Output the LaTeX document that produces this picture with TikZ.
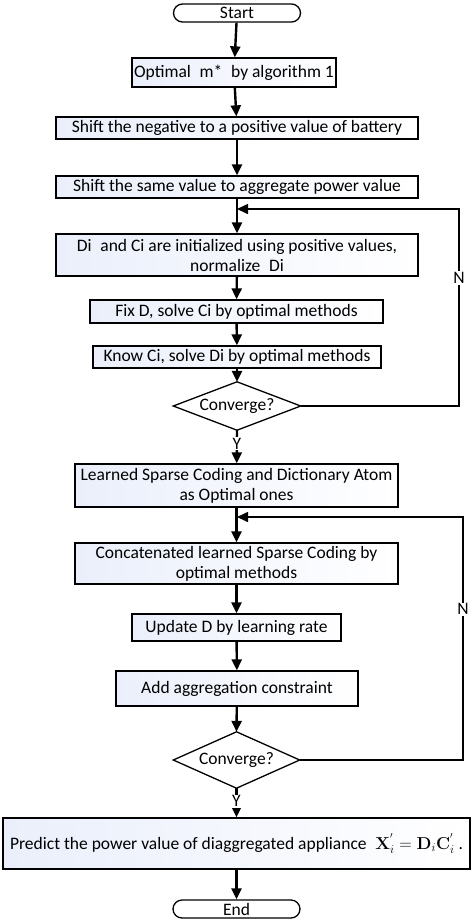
\documentclass[tikz,border=0pt]{standalone}
\usepackage[no-math]{fontspec}
\setmainfont{Carlito}
\usetikzlibrary{arrows.meta}
\definecolor{boxl}{RGB}{234,239,251}
\begin{document}
\begin{tikzpicture}[x=1pt,y=-1pt,
  every node/.style={font=\fontsize{17.5}{20}\selectfont, inner sep=0pt},
  procbox/.style={draw=black, line width=1.3pt, rectangle, left color=boxl, right color=white, align=center},
  termbox/.style={draw=black, line width=1.3pt, rectangle, rounded corners=9pt, fill=white},
  decbox/.style={rectangle},
  decline/.style={draw=black, line width=1.3pt, line join=miter},
  flow/.style={line width=2.4pt, -{Triangle[length=11pt,width=10pt]}},
  back/.style={line width=1.6pt, -{Triangle[length=11pt,width=10pt]}},
  lbl/.style={fill=white, inner sep=1pt}]
\useasboundingbox (0,0) rectangle (474,922);
\node[termbox, minimum width=127pt, minimum height=18pt] (start) at (237,13) {Start};
\node[procbox, minimum width=204pt, minimum height=29pt] (opt) at (234,72.5) {Optimal\enspace m*\enspace by algorithm 1};
\node[procbox, minimum width=362pt, minimum height=22pt] (neg) at (237,128) {Shift the negative to a positive value of battery};
\node[procbox, minimum width=362pt, minimum height=22pt] (same) at (237,187) {Shift the same value to aggregate power value};
\node[procbox, minimum width=362pt, minimum height=42pt] (init) at (237,255) {Di\enspace and Ci are initialized using positive values,\\normalize\enspace Di};
\node[procbox, minimum width=293pt, minimum height=23pt] (fix) at (236.5,311.5) {Fix D, solve Ci by optimal methods};
\node[procbox, minimum width=288pt, minimum height=22pt] (know) at (237,357) {Know Ci, solve Di by optimal methods};
\node[decbox, minimum width=127pt, minimum height=48pt] (c1) at (237,406) {};
\draw[decline] (c1.north) -- (c1.east) -- (c1.south) -- (c1.west) -- cycle;
\node at (c1.center) {Converge?};
\node[procbox, minimum width=323pt, minimum height=43pt] (learn) at (236.5,485.5) {Learned Sparse Coding and Dictionary Atom\\as Optimal ones};
\node[procbox, minimum width=323pt, minimum height=41pt] (concat) at (236.5,563.5) {Concatenated learned Sparse Coding by\\optimal methods};
\node[procbox, minimum width=209pt, minimum height=27pt] (upd) at (236.5,627.5) {Update D by learning rate};
\node[procbox, minimum width=242pt, minimum height=35pt] (agg) at (237,688.5) {Add aggregation constraint};
\node[decbox, minimum width=126pt, minimum height=56pt] (c2) at (236.5,760) {};
\draw[decline] (c2.north) -- (c2.east) -- (c2.south) -- (c2.west) -- cycle;
\node at (c2.center) {Converge?};
\node[procbox, minimum width=467pt, minimum height=51pt] (pred) at (236.5,843.5) {Predict the power value of diaggregated appliance\enspace $\mathbf{X}_i^{'}=\mathbf{D}_i\mathbf{C}_i^{'}$ .};
\node[termbox, minimum width=127pt, minimum height=18pt] (end) at (236.5,909) {End};

\coordinate (j1) at (237,209);
\coordinate (r1) at (459,406);
\coordinate (t1) at (459,209);
\coordinate (j2) at (237,517);
\coordinate (r2) at (463,760);
\coordinate (t2) at (463,517);

\draw[flow] (start) -- (opt);
\draw[flow] (opt) -- (neg);
\draw[flow] (neg) -- (same);
\draw[flow] (same) -- (init);
\draw[flow] (init) -- (fix);
\draw[flow] (fix) -- (know);
\draw[flow] (know) -- (c1.north);
\draw[flow] (c1.south) -- node[lbl, pos=0.4] {Y} (learn);
\draw[flow] (learn) -- (concat);
\draw[flow] (concat) -- (upd);
\draw[flow] (upd) -- (agg);
\draw[flow] (agg) -- (c2.north);
\draw[flow] (c2.south) -- node[lbl, pos=0.45] {Y} (pred);
\draw[flow] (pred) -- (end);

\draw[back] (c1.east) -- (r1) -- node[lbl, pos=0.65] {N} (t1) -- (j1);
\draw[back] (c2.east) -- (r2) -- node[lbl, pos=0.62] {N} (t2) -- (j2);
\end{tikzpicture}
\end{document}
